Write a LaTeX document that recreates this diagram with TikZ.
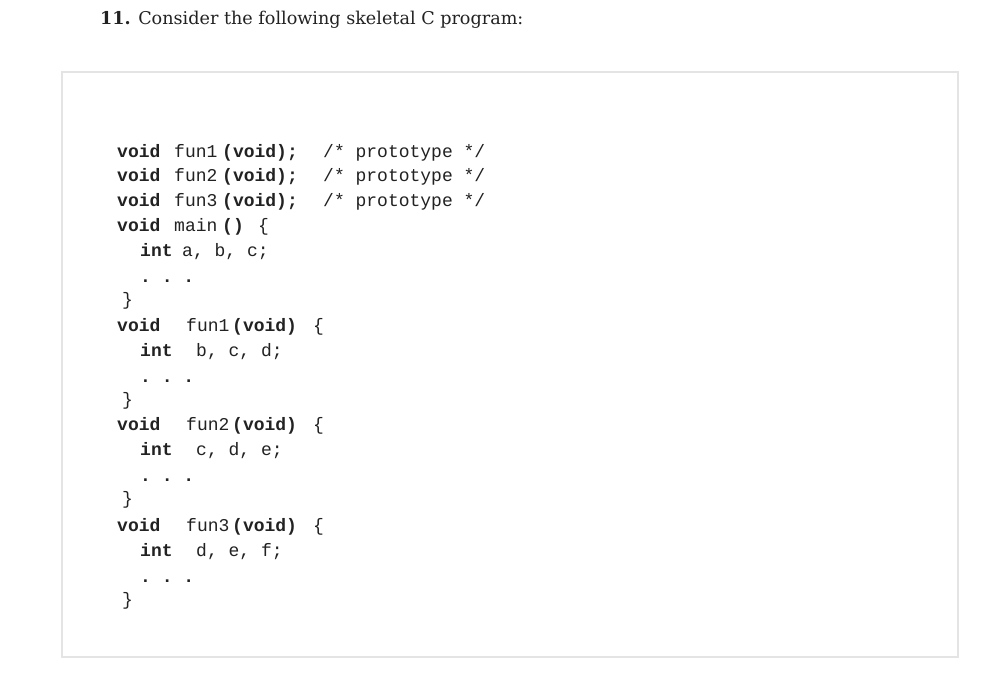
\documentclass[tikz,border=0pt]{standalone}
\usepackage{fontspec}
\setmonofont{Liberation Mono}
\newfontfamily\titlefont{DejaVu Serif}
\usetikzlibrary{positioning}
\definecolor{frame}{HTML}{E4E4E4}
\definecolor{ink}{HTML}{222222}
\begin{document}
\begin{tikzpicture}[x=1pt,y=-1pt,
  code/.style={anchor=base west,inner sep=0pt,text=ink,font=\ttfamily\fontsize{18}{20}\selectfont},
  kw/.style={code,font=\ttfamily\bfseries\fontsize{18}{20}\selectfont},
  title/.style={anchor=base west,inner sep=0pt,text=ink,font=\titlefont\fontsize{17.6}{22}\selectfont}]
  \useasboundingbox[fill=white] (0,0) rectangle (990,685);
  \node[title] (head) at (100,25) {\textbf{11.} Consider the following skeletal C program:};
  \draw[frame,line width=1.2pt] (62,72) rectangle (958,657);
  % prototypes
  \foreach \n/\y in {1/157,2/181,3/206}{
    \node[kw] at (117,\y) {void};
    \node[code] at (174,\y) {fun\n};
    \node[kw] at (222,\y) {(void);};
    \node[code] at (323,\y) {/* prototype */};
  }
  % main
  \node[kw] at (117,231) {void};
  \node[code] at (174,231) {main};
  \node[kw] at (222,231) {()};
  \node[code] at (258,231) {\{};
  \node[kw] at (140,256) {int};
  \node[code] at (182,256) {a, b, c;};
  \node[kw] at (140,282) {.~.~.};
  \node[code] at (122,305) {\}};
  % functions
  \foreach \n/\y/\vars in {1/331/{b, c, d;},2/430/{c, d, e;},3/531/{d, e, f;}}{
    \node[kw] at (117,\y) {void};
    \node[code] at (186,\y) {fun\n};
    \node[kw] at (232,\y) {(void)};
    \node[code] at (313,\y) {\{};
    \node[kw] at (140,\y+25) {int};
    \node[code] at (196,\y+25) {\vars};
    \node[kw] at (140,\y+51) {.~.~.};
    \node[code] at (122,\y+74) {\}};
  }
\end{tikzpicture}
\end{document}
